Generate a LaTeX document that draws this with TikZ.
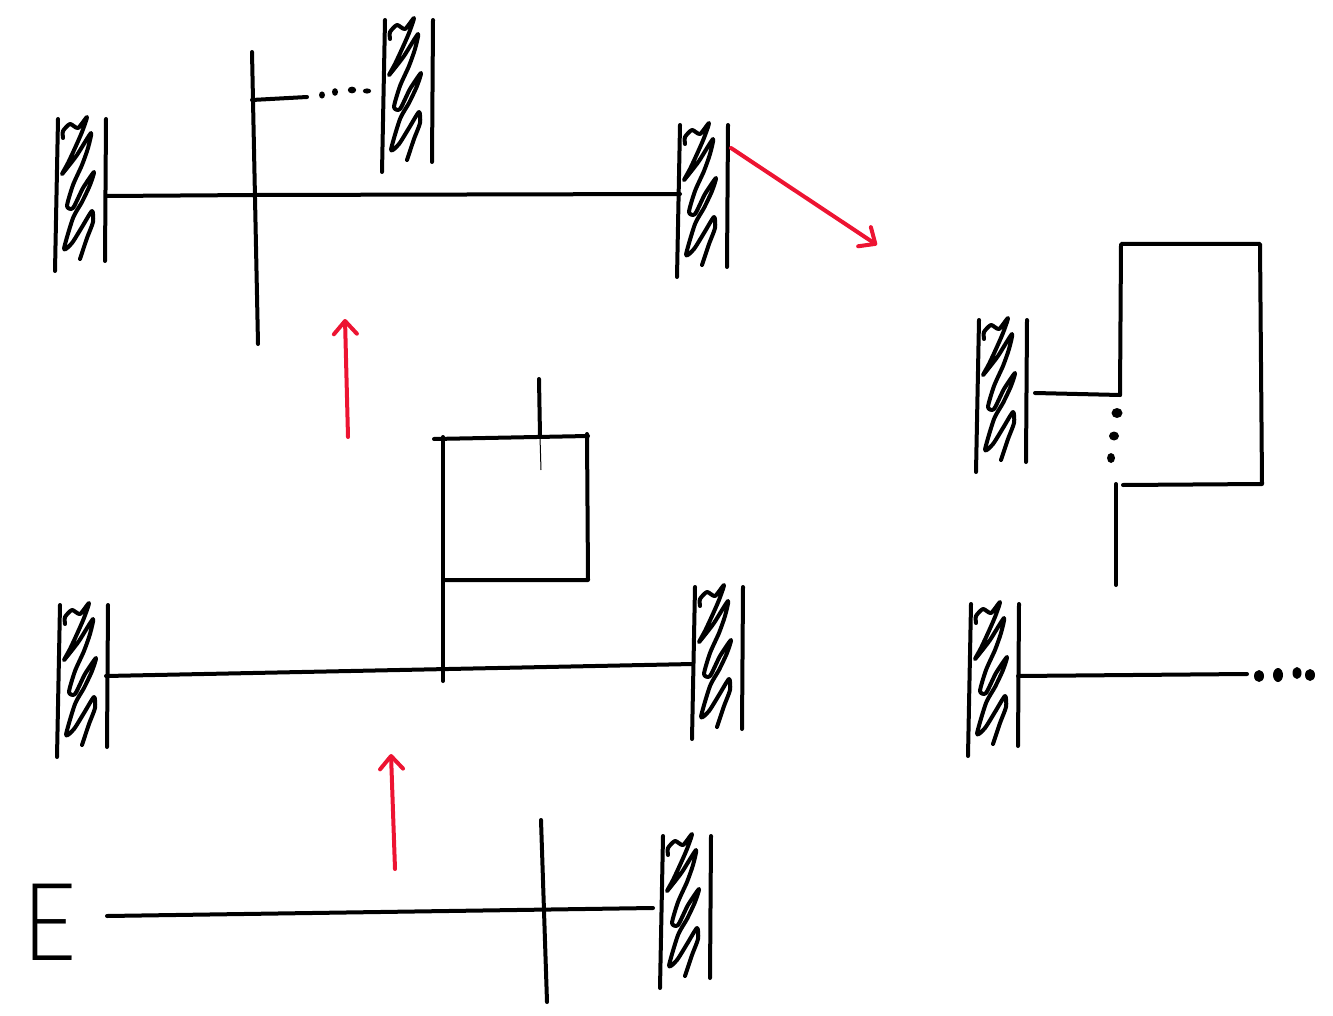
\documentclass[tikz,border=0pt]{standalone}
\usepackage{fontspec}
\usetikzlibrary{arrows.meta}
\usepackage{xcolor}
\newfontfamily\handfont{Lato Light}
\definecolor{sketchred}{RGB}{237,20,50}
\begin{document}
\begin{tikzpicture}[>=Latex,x=1pt,y=-1pt,
  pen/.style={line width=4pt,line cap=round,line join=round},
  redpen/.style={sketchred,line width=4pt,line cap=round,-{Straight Barb[length=13pt,width=23pt,round]}},
  wall/.pic={\draw[pen] (0,0)--(-3,152);\draw[pen] (48,0)--(47,142);
    \draw[pen] plot[smooth,tension=.4] coordinates {(5,19) (5,12) (12,5) (20,9) (29,-2) (24,13) (17,29) (10,44) (4,55) (9,49) (19,36) (33,14) (30,29) (24,46) (15,66) (9,87) (15,89) (25,69) (36,53) (32,66) (24,83) (15,99) (6,130) (14,124) (24,108) (34,92) (35,103) (29,119) (22,140)};}]
\useasboundingbox (0,0) rectangle (1333,1016);
\pic at (58,119) {wall};\pic at (385,20) {wall};\pic at (680,125) {wall};\pic at (60,605) {wall};
\pic at (695,587) {wall};\pic at (979,320) {wall};\pic at (971,604) {wall};\pic at (663,836) {wall};
\draw[pen] (106,196)--(255,195)--(680,194);\draw[pen] (252,52)--(258,344);\draw[pen] (252,100)--(307,97);
\fill (322,95) ellipse (3pt and 3.6pt);\fill (335,92) ellipse (3pt and 3.8pt);\fill (352,90) ellipse (4.2pt and 3.4pt);\fill (367,91) ellipse (4.2pt and 2.6pt);
\draw[pen] (106,676)--(693,664);\draw[pen] (443,437)--(443,681);\draw[pen] (434,439)--(588,436);
\draw[pen] (587,434)--(588,580)--(443,580);\draw[pen] (539,379)--(540,436);\draw[line width=1pt] (540,437)--(541,470);
\draw[pen] (107,916)--(653,908);\draw[pen] (541,820)--(547,1002);
\node[inner sep=0pt,font=\handfont\fontsize{108}{108}\selectfont,xscale=.85] (engine) at (50,922) {E};
\draw[pen] (1035,393)--(1120,395);\draw[pen] (1120,395)--(1121,244)--(1260,244)--(1262,484)--(1123,485);\draw[pen] (1116,484)--(1116,585);
\fill (1117,413) ellipse (5.5pt and 5pt);\fill (1114,436) ellipse (5pt and 4.5pt);\fill (1111,458) ellipse (4pt and 5pt);
\draw[pen] (1018,676)--(1247,674);
\fill (1259,676) ellipse (5pt and 6pt);\fill (1278,675) ellipse (5pt and 7pt);\fill (1297,673) ellipse (4.5pt and 6pt);\fill (1310,675) ellipse (5pt and 6pt);
\draw[redpen] (731,148)--(877,245);\draw[redpen] (348,437)--(345,319);\draw[redpen] (395,869)--(391,754);
\end{tikzpicture}
\end{document}
